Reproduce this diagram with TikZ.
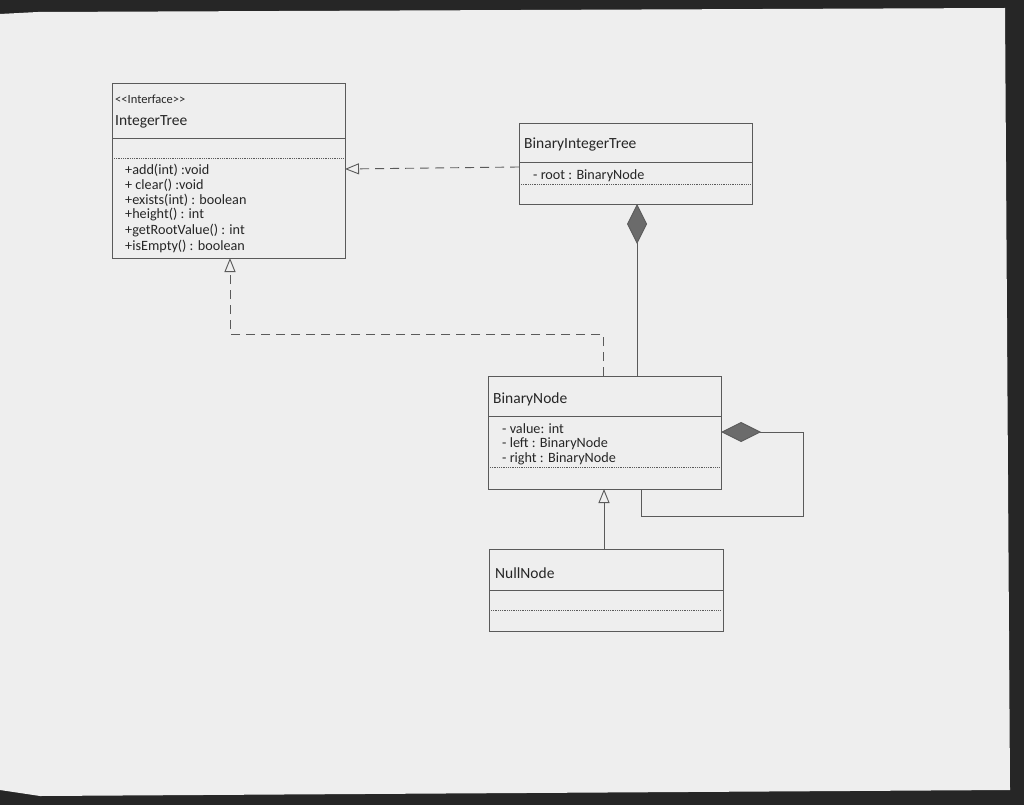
\documentclass[tikz,border=0pt]{standalone}
\usepackage{fontspec}
\setmainfont{Carlito}
\usetikzlibrary{arrows.meta}
\definecolor{ln}{HTML}{5A5A5A}
\definecolor{paper}{HTML}{EEEEEE}
\begin{document}
\begin{tikzpicture}[x=1pt,y=-1pt,
  box/.style={draw=ln,line width=1pt},
  dots/.style={ln,densely dotted,line width=0.8pt},
  ttl/.style={anchor=west,font=\fontsize{15.5}{16}\selectfont,text=black!85,inner sep=0},
  txt/.style={anchor=west,font=\fontsize{14.2}{15}\selectfont,text=black!85,inner sep=0},
  real/.style={draw=ln,line width=0.9pt,-{Triangle[open,length=14pt,width=11pt,fill=paper]}},
  comp/.style={draw=ln,line width=0.9pt,{Diamond[length=40pt,width=20pt,fill=ln!90]}-}]
\fill[black!85] (0,0) rectangle (1024,805);
\fill[paper] (0,14) -- (38,12) -- (1005,8) -- (1010,790) -- (40,796) -- (0,790) -- cycle;
\useasboundingbox (0,0) rectangle (1024,805);
% IntegerTree
\node[box,minimum width=233pt,minimum height=175pt,inner sep=0,anchor=north west] (it) at (112,83) {};
\draw[ln,line width=1pt] (112,139) -- (345,139);
\draw[dots] (114,158) -- (343,158);
\node[txt,font=\fontsize{12.5}{13}\selectfont] (it1) at (115,99) {{<}{<}Interface{>}{>}};
\node[ttl] (it2) at (115,122) {IntegerTree};
\node[txt] (m1) at (125,170) {+add(int) :void};
\node[txt] (m2) at (125,185) {+ clear() :void};
\node[txt] (m3) at (125,200) {+exists(int) : boolean};
\node[txt] (m4) at (125,215) {+height() : int};
\node[txt] (m5) at (125,231) {+getRootValue() : int};
\node[txt] (m6) at (125,246) {+isEmpty() : boolean};
% BinaryIntegerTree
\node[box,minimum width=233pt,minimum height=81pt,inner sep=0,anchor=north west] (bit) at (519,123) {};
\draw[ln,line width=1pt] (519,163) -- (752,163);
\draw[dots] (521,184) -- (750,184);
\node[ttl] (bt) at (524,145) {BinaryIntegerTree};
\node[txt] (br) at (533,176) {- root : BinaryNode};
% BinaryNode
\node[box,minimum width=233pt,minimum height=113pt,inner sep=0,anchor=north west] (bn) at (488,376) {};
\draw[ln,line width=1pt] (488,416) -- (721,416);
\draw[dots] (490,467) -- (719,467);
\node[ttl] (bnt) at (493,399) {BinaryNode};
\node[txt] (a1) at (502,429) {- value: int};
\node[txt] (a2) at (502,444) {- left : BinaryNode};
\node[txt] (a3) at (502,459) {- right : BinaryNode};
% NullNode
\node[box,minimum width=234pt,minimum height=82pt,inner sep=0,anchor=north west] (nn) at (489,549) {};
\draw[ln,line width=1pt] (489,590) -- (723,590);
\draw[dots] (491,610) -- (721,610);
\node[ttl] (nnt) at (495,573) {NullNode};
% connectors
\coordinate (c1) at (519,167);
\coordinate (c2) at (345,169);
\draw[real,dash pattern=on 9pt off 6pt] (c1) -- (c2);
\coordinate (d0) at (603,376);
\coordinate (d3) at (230,258);
\draw[real,dash pattern=on 9pt off 6pt] (d0) -- (603,334) -- (230,334) -- (d3);
\coordinate (e1) at (637,204);
\coordinate (e2) at (637,376);
\draw[comp] (e1) -- (e2);
\coordinate (s1) at (721,432);
\coordinate (s5) at (641,489);
\draw[comp] (s1) -- (803,432) -- (803,516) -- (641,516) -- (s5);
\coordinate (n1) at (604,549);
\coordinate (n2) at (604,489);
\draw[real] (n1) -- (n2);
\end{tikzpicture}
\end{document}
